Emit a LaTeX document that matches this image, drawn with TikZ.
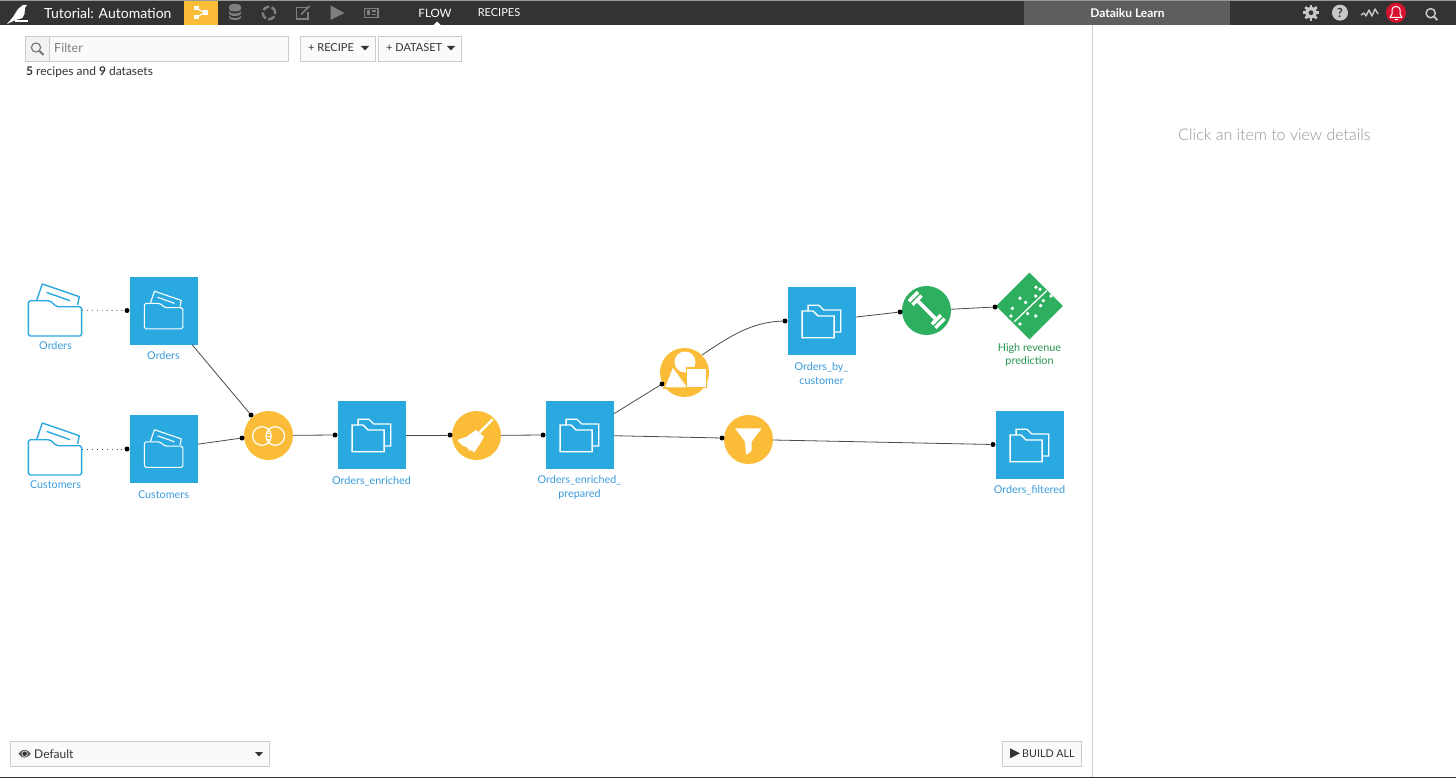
\documentclass[tikz,border=0pt]{standalone}
\usepackage{fontspec}
\setmainfont{Lato}
\newfontfamily\dklight{Lato Light}
\usetikzlibrary{shapes.geometric}
\definecolor{dsblue}{HTML}{29A9DF}
\definecolor{rcorange}{HTML}{FBBC38}
\definecolor{mlgreen}{HTML}{2EAF60}
\definecolor{lblblue}{HTML}{3A9BDC}
\definecolor{barbg}{HTML}{333333}
\definecolor{baricon}{HTML}{7F7F7F}
\definecolor{hiicon}{HTML}{C8C8C8}
\definecolor{btnline}{HTML}{CCCCCC}
\definecolor{edgecol}{HTML}{4A4A4A}
\definecolor{ink}{HTML}{333333}
\definecolor{bellred}{HTML}{D6122F}
\definecolor{hintgray}{HTML}{8E979E}
\newcommand{\dkfs}[1]{\fontsize{#1}{#1}\selectfont}
\newcommand{\dkpaperfolder}[5]{%
  \begin{scope}[shift={(#1,#2)},scale=#3,draw=#4,line width=#5,line join=round]
    \draw (8.3,0) -- (14,-16.7) -- (51,-4) -- (49.3,4.3);
    \draw (18.3,-8.3) -- (41.7,0);
    \draw[rounded corners=1.8pt] (0,0) -- (21.7,0) -- (28.3,6) -- (53.3,6) -- (53.3,35.3) -- (0,35.3) -- cycle;
  \end{scope}}
\newcommand{\dkdoublefolder}[2]{%
  \begin{scope}[shift={(#1-19.4,#2-10)},draw=white,line width=1.3pt]
    \draw (6,0) -- (6,-5.7) -- (17,-5.7) -- (21.7,-1) -- (38.7,-1) -- (38.7,21) -- (32,21);
    \draw (0,0) -- (11,0) -- (16,5) -- (32,5) -- (32,26.7) -- (0,26.7) -- cycle;
  \end{scope}}
\tikzset{
  dataset/.style={rectangle,fill=dsblue,minimum size=68pt,inner sep=0pt},
  folderbox/.style={rectangle,minimum width=54pt,minimum height=52pt,inner sep=0pt},
  recipe/.style={circle,fill=rcorange,minimum size=49pt,inner sep=0pt},
  trainrecipe/.style={circle,fill=mlgreen,minimum size=49pt,inner sep=0pt},
  modelnode/.style={diamond,aspect=1,fill=mlgreen,minimum width=66.7pt,minimum height=66.7pt,inner sep=0pt},
  portdot/.style={circle,fill=black,minimum size=5pt,inner sep=0pt},
  edgeline/.style={draw=edgecol,line width=0.8pt},
  syncline/.style={draw=edgecol,line width=0.8pt,dash pattern=on 0.9pt off 4pt},
  lbl/.style={text=lblblue,font=\dkfs{10.8},align=center,inner sep=0pt},
  greenlbl/.style={text=mlgreen!85!black,font=\dkfs{10.8},align=center,inner sep=0pt},
  bartext/.style={text=white,inner sep=0pt},
  btn/.style={draw=btnline,line width=1pt,fill=white!98!black},
  btntext/.style={text=ink,font=\dkfs{11},inner sep=0pt,anchor=west},
}
\begin{document}
\begin{tikzpicture}[x=1pt,y=-1pt]
\useasboundingbox (0,0) rectangle (1456,778);
\fill[white] (0,0) rectangle (1456,778);
% ---- top bar
\fill[barbg] (0,0) rectangle (1456,25);
\fill[black!40] (0,0) rectangle (1456,1);
\fill[rcorange] (184,1) rectangle (218,25);
\fill[black!63] (1024,1) rectangle (1230,25);
% bird logo
\fill[white] (7,24) -- (13,17) -- (18,9) -- (23,5) -- (27,5) -- (25,8) -- (24.5,14) -- (22.5,18) -- (15,20.3) -- cycle;
\fill[white] (15,20.5) rectangle (28,22);
\node[bartext,anchor=west,font=\dkfs{14}] (title) at (44,13) {Tutorial: Automation};
% flow icon
\begin{scope}[white]
  \draw[line width=1.2pt] (196,8.2) -- (205,12.7) -- (196,17.2);
  \fill (193.5,6) rectangle (199,10.5);
  \fill (193.5,15) rectangle (199,19.5);
  \fill (203,10.5) rectangle (208,15);
\end{scope}
% database icon
\begin{scope}[baricon]
  \fill (229,6.5) arc[start angle=180,end angle=0,x radius=6pt,y radius=2.5pt] -- (241,9) arc[start angle=0,end angle=-180,x radius=6pt,y radius=2.5pt] -- cycle;
  \fill (229,11) arc[start angle=180,end angle=360,x radius=6pt,y radius=2.5pt] -- (241,13.5) arc[start angle=360,end angle=180,x radius=6pt,y radius=2.5pt] -- cycle;
  \fill (229,15.5) arc[start angle=180,end angle=360,x radius=6pt,y radius=2.5pt] -- (241,17.5) arc[start angle=360,end angle=180,x radius=6pt,y radius=2.5pt] -- cycle;
\end{scope}
\draw[baricon,line width=2.4pt,dash pattern=on 7pt off 2.4pt] (269,13) circle[radius=6.2pt];
\draw[baricon,line width=1.5pt] (309,7.5) -- (296.5,7.5) -- (296.5,19) -- (308,19) -- (308,12);
\draw[baricon,line width=1.6pt] (301,14.5) -- (309.5,6);
\fill[baricon] (330.5,5.5) -- (344.5,13) -- (330.5,20) -- cycle;
\draw[baricon,line width=1.3pt] (364.5,8.5) rectangle (378,17.5);
\fill[baricon] (366.5,10.5) rectangle (370,15.5);
\fill[baricon] (372,10.5) rectangle (376,12.3);
\fill[baricon] (372,13.7) rectangle (376,15.5);
\node[bartext,font=\dkfs{11.5}] (flowtab) at (435,13) {FLOW};
\node[bartext,font=\dkfs{11}] (recipestab) at (499,13) {RECIPES};
\fill[white] (433,25.5) -- (437,21.5) -- (441,25.5) -- cycle;
\node[bartext,font=\bfseries\dkfs{12}] (learn) at (1127.5,13) {Dataiku Learn};
% gear
\fill[hiicon] (1311,12.7) circle[radius=5.8pt];
\foreach \a in {0,45,...,315} \draw[hiicon,line width=2.6pt] (1311,12.7) -- ++(\a:8);
\fill[barbg] (1311,12.7) circle[radius=2.4pt];
% help
\fill[hiicon] (1340,12.7) circle[radius=8pt];
\node[text=barbg,font=\bfseries\dkfs{12.5},inner sep=0pt] (helpmark) at (1340,12.7) {?};
% activity
\draw[hiicon,line width=1.4pt,line join=round] (1361,15) -- (1364,13) -- (1366,16) -- (1369,10) -- (1372,16) -- (1375,9) -- (1378,14);
% bell
\fill[bellred] (1396,12.7) circle[radius=10pt];
\draw[white,line width=1pt,line join=round] (1390,17.5) -- (1392,14) -- (1392,9.5) .. controls (1392,5.5) and (1400,5.5) .. (1400,9.5) -- (1400,14) -- (1402,17.5) -- cycle;
\draw[white,line width=1pt] (1394.5,19.3) -- (1397.5,19.3);
% search
\draw[hiicon,line width=1.5pt] (1430.7,13.2) circle[radius=4.6pt];
\draw[hiicon,line width=1.9pt] (1434,16.6) -- (1437.3,20);
% ---- side panel
\draw[btnline,line width=1pt] (1092.5,25) -- (1092.5,778);
\node[text=hintgray,font=\dklight\dkfs{16},inner sep=0pt] (hint) at (1274.5,135) {Click an item to view details};
% ---- toolbar
\draw[btn] (25,37) rectangle (288.5,62);
\fill[black!5] (25.5,37.5) rectangle (49,61.5);
\draw[btnline,line width=1pt] (49.5,37) -- (49.5,62);
\draw[black!55,line width=1.1pt] (36,47.5) circle[radius=4.6pt];
\draw[black!55,line width=1.8pt] (39.5,51) -- (43.5,55);
\node[anchor=west,text=black!50,font=\dkfs{12.5},inner sep=0pt] (filter) at (54,48) {Filter};
\draw[btn] (300.5,37) rectangle (375.5,62);
\node[btntext] (addrecipe) at (308,48) {+ RECIPE};
\fill[ink] (361,46) -- (369,46) -- (365,50.5) -- cycle;
\draw[btn] (378.5,37) rectangle (461.5,62);
\node[btntext] (adddataset) at (386,48) {+ DATASET};
\fill[ink] (447,46) -- (455,46) -- (451,50.5) -- cycle;
\node[anchor=west,text=ink,font=\dkfs{12},inner sep=0pt] (counts) at (26,72) {\textbf{5} recipes and \textbf{9} datasets};
% ---- bottom
\draw[btn] (10.5,741.5) rectangle (269.5,766.5);
\fill[ink!80] (18.3,753.7) .. controls (22,748.5) and (27,748.5) .. (30.9,753.7) .. controls (27,758.9) and (22,758.9) .. (18.3,753.7) -- cycle;
\fill[white] (24.6,753.7) circle[radius=3pt];
\fill[ink] (24.6,753.7) circle[radius=2.3pt];
\node[btntext,font=\dkfs{12}] (defaultview) at (34,754) {Default};
\fill[ink] (255,752) -- (263,752) -- (259,756.5) -- cycle;
\draw[btn] (1002.5,741.5) rectangle (1081.5,766.5);
\fill[ink] (1010,748.3) -- (1020,753.3) -- (1010,758.3) -- cycle;
\node[btntext,font=\dkfs{10.7}] (buildall) at (1022,754) {BUILD ALL};
\fill[barbg] (0,777) rectangle (1456,778);
% ---- flow nodes
\node[folderbox] (fOrders) at (55,310) {};
\node[folderbox] (fCustomers) at (55,449) {};
\node[dataset] (dOrders) at (163.5,310.5) {};
\node[dataset] (dCustomers) at (163.5,449) {};
\node[dataset] (dEnriched) at (371.5,435) {};
\node[dataset] (dPrepared) at (579.5,435) {};
\node[dataset] (dByCustomer) at (821.5,321) {};
\node[dataset] (dFiltered) at (1029.5,445) {};
\node[recipe] (rJoin) at (268.5,435.5) {};
\node[recipe] (rPrepare) at (476.5,435.5) {};
\node[recipe] (rGroup) at (684.5,372.5) {};
\node[recipe] (rFilter) at (748.5,439.5) {};
\node[trainrecipe] (rTrain) at (926.5,310.5) {};
\node[modelnode] (mModel) at (1029.5,306) {};
% ports
\node[portdot] (p1) at (127,310.5) {};
\node[portdot] (p2) at (127,449) {};
\node[portdot] (p3) at (251,415) {};
\node[portdot] (p4) at (242,438) {};
\node[portdot] (p5) at (335,435) {};
\node[portdot] (p6) at (450,435) {};
\node[portdot] (p7) at (543,435) {};
\node[portdot] (p8) at (662,384) {};
\node[portdot] (p9) at (722,438) {};
\node[portdot] (p10) at (785,321) {};
\node[portdot] (p11) at (900,312) {};
\node[portdot] (p12) at (995,307) {};
\node[portdot] (p13) at (993,444.5) {};
% connectors
\draw[syncline] (fOrders) -- (p1);
\draw[syncline] (fCustomers) -- (p2);
\draw[edgeline] (dOrders) -- (p3);
\draw[edgeline] (dCustomers) -- (p4);
\draw[edgeline] (rJoin) -- (p5);
\draw[edgeline] (dEnriched) -- (p6);
\draw[edgeline] (rPrepare) -- (p7);
\draw[edgeline] (dPrepared) -- (p8);
\draw[edgeline] (dPrepared) -- (p9);
\draw[edgeline] (rGroup.north east) .. controls (730,336) and (752,322) .. (p10);
\draw[edgeline] (dByCustomer) -- (p11);
\draw[edgeline] (rTrain) -- (p12);
\draw[edgeline] (rFilter) -- (p13);
% folder icons
\dkpaperfolder{28.3}{300.7}{1}{dsblue}{1.4pt}
\dkpaperfolder{28.3}{439.7}{1}{dsblue}{1.4pt}
\dkpaperfolder{144.3}{303.3}{0.725}{white}{1.1pt}
\dkpaperfolder{144.3}{441.8}{0.725}{white}{1.1pt}
\dkdoublefolder{371.5}{435}
\dkdoublefolder{579.5}{435}
\dkdoublefolder{821.5}{321}
\dkdoublefolder{1029.5}{445}
% join icon
\begin{scope}[white,line width=1.2pt]
  \draw (261.9,436) circle[radius=9.3pt];
  \draw (275.3,436) circle[radius=9.3pt];
  \draw[line width=0.6pt] (266.5,433) -- (270.7,433) (266,436) -- (271.2,436) (266.5,439) -- (270.7,439);
\end{scope}
% broom icon
\draw[white,line width=2.4pt] (492.7,419.3) -- (479.3,432.7);
\fill[white] (457.3,440) -- (466.7,436.7) -- (476,430) -- (484,436.7) -- (479.3,445) -- (474,452.7) -- (471.7,450) -- (470,451) -- (466.7,447.3) -- (463.3,446) -- (460,443.3) -- cycle;
% grouping icon
\fill[white] (685,362) circle[radius=10.5pt];
\draw[rcorange,line width=1.5pt,fill=white] (672.7,366) -- (688.5,388) -- (664,388) -- cycle;
\draw[rcorange,line width=1.5pt,fill=white] (686.7,368) rectangle (706.5,387.5);
% funnel icon
\fill[white,rounded corners=0.6pt] (735,428.3) -- (761.7,428.3) -- (751.7,441.7) -- (751.7,450.7) -- (746,455) -- (745,441.7) -- cycle;
% dumbbell icon
\begin{scope}[shift={(926.7,310)},rotate=-45,white]
  \fill (-12,-1.8) rectangle (12,1.8);
  \fill (-20.5,-6.4) rectangle (-17,6.4);
  \fill (-15.5,-6.4) rectangle (-12,6.4);
  \fill (12,-6.4) rectangle (15.5,6.4);
  \fill (17,-6.4) rectangle (20.5,6.4);
\end{scope}
% model icon
\draw[white,line width=1.3pt] (1014.3,321.7) -- (1046.7,290.7);
\foreach \px/\py in {123/52,135/58,75/85,92/97,122/78,145/92,168/78,137/107,52/115,48/138,75/162,98/131,122/138}
  \fill[white] ({995+\px/3},{270+\py/3}) circle[radius=1.9pt];
% labels
\node[lbl] (lfOrders) at (55.5,346) {Orders};
\node[lbl] (lfCustomers) at (55.5,485) {Customers};
\node[lbl] (ldOrders) at (163.5,356) {Orders};
\node[lbl] (ldCustomers) at (163.5,495) {Customers};
\node[lbl] (ldEnriched) at (371.5,481) {Orders\_enriched};
\node[lbl] (ldPrepared) at (579.5,487.5) {Orders\_enriched\_\\[2.7pt]prepared};
\node[lbl] (ldByCustomer) at (821.5,373.5) {Orders\_by\_\\[2.7pt]customer};
\node[lbl] (ldFiltered) at (1029.5,490) {Orders\_filtered};
\node[greenlbl] (lModel) at (1029.5,355) {High revenue\\[2.7pt]prediction};
\end{tikzpicture}
\end{document}
